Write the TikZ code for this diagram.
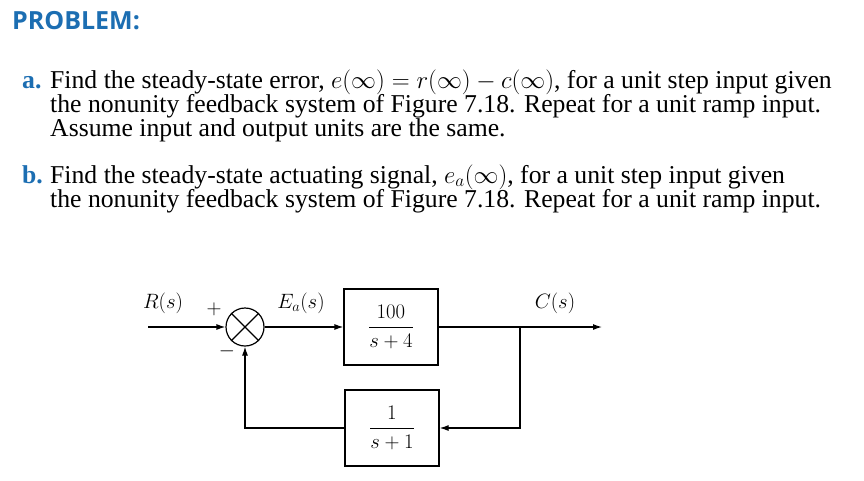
\documentclass[tikz,border=0pt]{standalone}
\usepackage{amsmath}
\usepackage{fontspec}
\setmainfont{Liberation Serif}
\newfontfamily\headfont{Open Sans}
\usetikzlibrary{positioning,arrows.meta}
\definecolor{probblue}{RGB}{28,110,178}
\tikzset{>={Latex[length=9pt,width=6pt]}, % filled arrow heads
x=1pt, y=-1pt,
line/.style={anchor=base west, inner sep=0pt, font=\fontsize{25.7}{30}\selectfont},
block/.style={draw, line width=1.2pt, minimum width=94pt, minimum height=76pt, font=\fontsize{20}{24}\selectfont},
lbl/.style={font=\fontsize{20}{24}\selectfont, inner sep=1pt},
}
\begin{document}
\begin{tikzpicture}
\useasboundingbox (0,0) rectangle (864,480);
% heading and text
\node[anchor=base west, inner sep=0pt, text=probblue, font=\headfont\bfseries\fontsize{25}{28}\selectfont] (head) at (12,29) {PROBLEM:};
\node[line, text=probblue] (la) at (22,88) {\textbf{a.}};
\node[line] (a1) at (50,88) {Find the steady-state error, $e(\infty)=r(\infty)-c(\infty)$, for a unit step input given};
\node[line] (a2) at (50,112) {the nonunity feedback system of Figure 7.18. Repeat for a unit ramp input.};
\node[line] (a3) at (50,136) {Assume input and output units are the same.};
\node[line, text=probblue] (lb) at (22,183) {\textbf{b.}};
\node[line] (b1) at (50,183) {Find the steady-state actuating signal, $e_a(\infty)$, for a unit step input given};
\node[line] (b2) at (50,207) {the nonunity feedback system of Figure 7.18. Repeat for a unit ramp input.};
% block diagram
\coordinate (in) at (148,327);
\node[draw, line width=1.2pt, circle, minimum size=38pt, inner sep=0pt] (sum) at (245,327) {};
\draw[line width=1.2pt] (sum.north west) -- (sum.south east) (sum.north east) -- (sum.south west);
\node[block] (G) at (391,327) {$\dfrac{100}{s+4}$};
\node[block] (H) at (392,428) {$\dfrac{1}{s+1}$};
\coordinate (tap) at (520,327);
\coordinate (out) at (602,327);
\draw[line width=1.2pt, ->] (in) -- (sum);
\draw[line width=1.2pt, ->] (sum) -- (G);
\draw[line width=1.2pt, ->] (G) -- (out);
\draw[line width=1.2pt, ->] (tap) |- (H);
\draw[line width=1.2pt, ->] (H) -| (sum);
\node[lbl] (R) at (163,303) {$R(s)$};
\node[lbl] (plus) at (214,309) {$+$};
\node[lbl] (minus) at (227,351) {$-$};
\node[lbl] (E) at (301,303) {$E_a(s)$};
\node[lbl] (C) at (555,303) {$C(s)$};
\end{tikzpicture}
\end{document}
